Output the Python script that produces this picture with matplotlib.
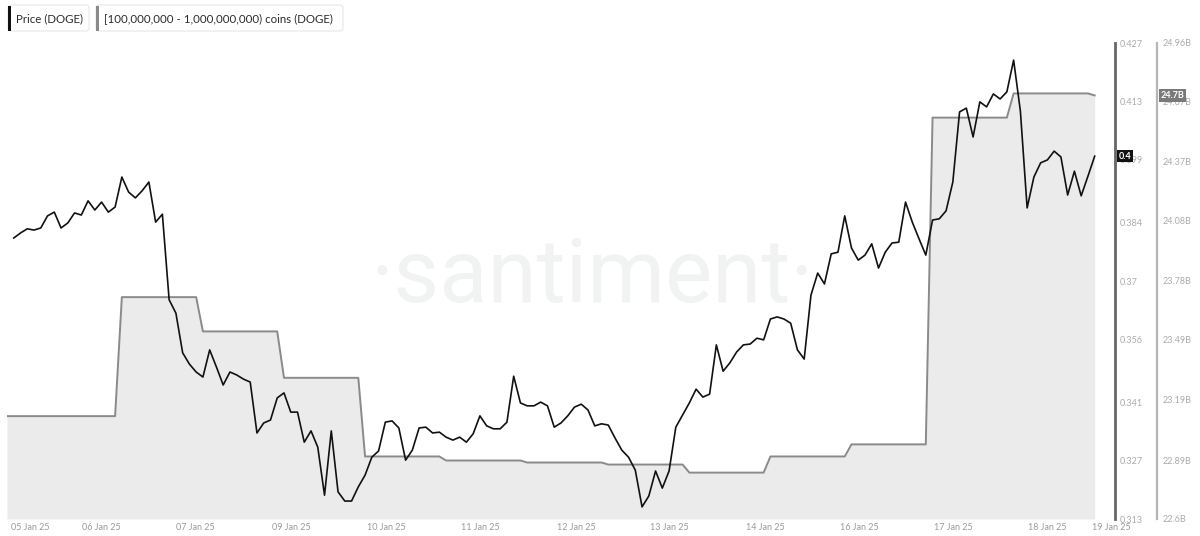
import numpy as np
import matplotlib
matplotlib.use("Agg")
import matplotlib.pyplot as plt
from matplotlib.patches import FancyBboxPatch, Rectangle

# ─────────────────────────────────────────────── data (hourly samples)

price = [
    0.3803, 0.3815, 0.3825, 0.3822, 0.3827, 0.3856, 0.3865, 0.3827, 0.3839, 0.3863,
    0.3858, 0.3892, 0.3870, 0.3889, 0.3865, 0.3877, 0.3949, 0.3913, 0.3899, 0.3916,
    0.3937, 0.3841, 0.3860, 0.3655, 0.3623, 0.3528, 0.3501, 0.3482, 0.3470, 0.3535,
    0.3494, 0.3451, 0.3482, 0.3475, 0.3465, 0.3458, 0.3336, 0.3360, 0.3367, 0.3420,
    0.3432, 0.3386, 0.3386, 0.3314, 0.3341, 0.3302, 0.3187, 0.3341, 0.3195, 0.3173,
    0.3173, 0.3207, 0.3235, 0.3278, 0.3293, 0.3362, 0.3365, 0.3348, 0.3271, 0.3295,
    0.3348, 0.3350, 0.3336, 0.3338, 0.3326, 0.3319, 0.3326, 0.3314, 0.3334, 0.3377,
    0.3353, 0.3346, 0.3346, 0.3362, 0.3472, 0.3408, 0.3401, 0.3401, 0.3410, 0.3401,
    0.3350, 0.3360, 0.3377, 0.3398, 0.3405, 0.3391, 0.3353, 0.3358, 0.3355, 0.3324,
    0.3295, 0.3278, 0.3247, 0.3159, 0.3185, 0.3245, 0.3204, 0.3245, 0.3350, 0.3379,
    0.3408, 0.3441, 0.3422, 0.3429, 0.3547, 0.3484, 0.3504, 0.3530, 0.3547, 0.3549,
    0.3563, 0.3559, 0.3609, 0.3614, 0.3609, 0.3599, 0.3535, 0.3513, 0.3666, 0.3719,
    0.3693, 0.3765, 0.3769, 0.3856, 0.3779, 0.3750, 0.3762, 0.3789, 0.3731, 0.3769,
    0.3791, 0.3793, 0.3889, 0.3841, 0.3801, 0.3762, 0.3846, 0.3849, 0.3868, 0.3937,
    0.4105, 0.4114, 0.4045, 0.4129, 0.4117, 0.4148, 0.4136, 0.4153, 0.4229, 0.4107,
    0.3875, 0.3949, 0.3983, 0.3990, 0.4011, 0.3997, 0.3906, 0.3963, 0.3904, 0.3951,
    0.3999,
]

# holdings of [100M - 1B) DOGE addresses, billions; value per 12h block
holding_levels = [23.11, 23.70, 23.53, 23.30, 22.91, 22.89, 22.88, 22.87,
                  22.83, 22.91, 22.97, 24.59, 24.71, 24.70]
holding_hours = [17, 12, 12, 12, 12, 12, 12, 12, 12, 12, 12, 12, 12, 1]

date_labels = ["05 Jan 25", "06 Jan 25", "07 Jan 25", "09 Jan 25", "10 Jan 25",
               "11 Jan 25", "12 Jan 25", "13 Jan 25", "14 Jan 25", "16 Jan 25",
               "17 Jan 25", "18 Jan 25", "19 Jan 25"]
date_ticks = [2.4, 13.0, 26.9, 41.1, 55.1, 69.1, 83.2, 97.1, 111.2, 125.1,
              139.0, 153.0, 162.5]

price_ticks = [0.313, 0.327, 0.341, 0.356, 0.37, 0.384, 0.399, 0.413, 0.427]
holding_ticks = [22.6, 22.89, 23.19, 23.49, 23.78, 24.08, 24.37, 24.67, 24.96]
holding_tick_labels = ["22.6B", "22.89B", "23.19B", "23.49B", "23.78B",
                       "24.08B", "24.37B", "24.67B", "24.96B"]

FONT = "Lato"
TICK_COL = "#ababab"

# ─────────────────────────────────────────────── figure

price_x = np.arange(len(price))
holdings = np.repeat(holding_levels, holding_hours)
hold_x = np.arange(len(holdings)) - 1

fig = plt.figure(figsize=(12, 5.36), dpi=100)
fig.patch.set_facecolor("white")

# axes spans x=7..1118 px, y=43..519 px
ax_h = fig.add_axes([7 / 1200, 17 / 536, 1111 / 1200, 476 / 536])
ax_p = ax_h.twinx()

# holdings: grey step line with light fill
ax_h.fill_between(hold_x, holdings, 22.6, color="#ebebeb", lw=0, zorder=1)
ax_h.plot(hold_x, holdings, color="#8a8a8a", lw=1.4, zorder=2)
ax_h.set_ylim(22.6, 24.96)
ax_h.set_xlim(-1, 163.45)

# price line
ax_p.plot(price_x, price, color="#111111", lw=1.2, zorder=3)
ax_p.set_ylim(0.313, 0.427)

# watermark
ax_h.text(0.527, 0.456, "·santiment·", transform=ax_h.transAxes, ha="center",
          va="baseline", fontsize=64, color="#f1f3f3", family="Roboto",
          zorder=0.5)

# spines
P_SPINE = 0.9969
H_SPINE = 1.0347
for sp in list(ax_h.spines.values()) + list(ax_p.spines.values()):
    sp.set_visible(False)
ax_p.spines["right"].set_visible(True)
ax_p.spines["right"].set_position(("axes", P_SPINE))
ax_p.spines["right"].set_color("#666666")
ax_p.spines["right"].set_linewidth(2)
ax_h.spines["right"].set_visible(True)
ax_h.spines["right"].set_position(("axes", H_SPINE))
ax_h.spines["right"].set_color("#b5b5b5")
ax_h.spines["right"].set_linewidth(1.6)

ax_h.yaxis.tick_right()
ax_h.set_yticks(holding_ticks)
ax_h.set_yticklabels(holding_tick_labels)
ax_p.set_yticks(price_ticks)
ax_p.set_yticklabels([f"{t:g}" for t in price_ticks])
ax_h.set_xticks(date_ticks)
ax_h.set_xticklabels(date_labels)

for ax in (ax_h, ax_p):
    ax.tick_params(axis="y", length=0, pad=4, labelsize=6.5, labelcolor=TICK_COL)
    for lab in ax.get_yticklabels():
        lab.set_family(FONT)
ax_h.tick_params(axis="x", length=0, pad=3, labelsize=6.5, labelcolor="#9a9a9a")
for lab in ax_h.get_xticklabels():
    lab.set_family(FONT)

# last-value badges
ax_p.annotate("0.4", xy=(P_SPINE, price[-1]), xycoords=("axes fraction", "data"),
              xytext=(3, 0), textcoords="offset points", ha="left", va="center",
              fontsize=6.5, color="white", family=FONT, fontweight="bold",
              bbox=dict(boxstyle="square,pad=0.2", fc="#111111", ec="none"))
ax_h.annotate("24.7B", xy=(H_SPINE, holdings[-1]), xycoords=("axes fraction", "data"),
              xytext=(3, 0), textcoords="offset points", ha="left", va="center",
              fontsize=6.5, color="white", family=FONT, fontweight="bold",
              bbox=dict(boxstyle="square,pad=0.2", fc="#7a7a7a", ec="none"))

# ─────────────────────────────────────────────── legend chips (pixel overlay)

ov = fig.add_axes([0, 0, 1, 1], facecolor="none")
ov.set_xlim(0, 1200)
ov.set_ylim(536, 0)
ov.axis("off")

chips = [("Price (DOGE)", "#111111", 8, 89),
         ("[100,000,000 - 1,000,000,000) coins (DOGE)", "#8a8a8a", 96, 343)]
for label, col, x0, x1 in chips:
    ov.add_patch(FancyBboxPatch((x0, 5), x1 - x0, 26,
                                boxstyle="round,pad=0,rounding_size=3",
                                fc="white", ec="#e6e6e6", lw=0.8))
    ov.add_patch(Rectangle((x0, 5.5), 3, 25, fc=col, ec="none"))
    ov.text(x0 + 8, 18.5, label, ha="left", va="center", fontsize=8.3,
            color="#2b2b2b", family=FONT)

fig.savefig("out.png", dpi=100, facecolor=fig.get_facecolor())
plt.close(fig)
